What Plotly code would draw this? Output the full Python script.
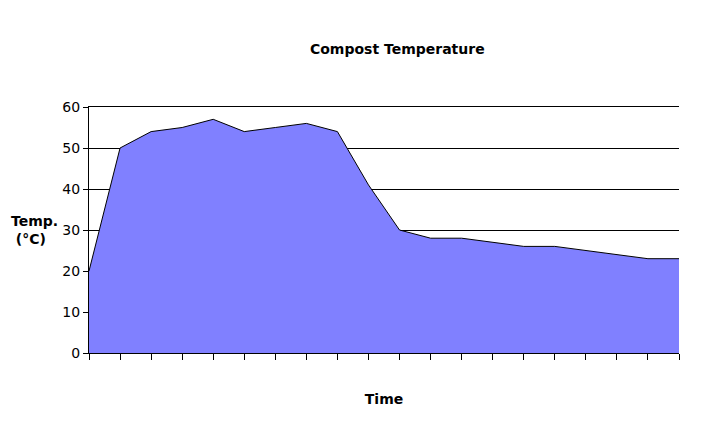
import plotly.graph_objects as go

# Readings taken at regular intervals (no labels on the time axis)
time_steps = list(range(20))
temps = [20, 50, 54, 55, 57, 54, 55, 56, 54, 41, 30, 28, 28, 27, 26, 26, 25, 24, 23, 23]
y_ticks = [0, 10, 20, 30, 40, 50, 60]

font = "DejaVu Sans, Arial, sans-serif"

fig = go.Figure()
fig.add_trace(go.Scatter(
    x=time_steps, y=temps, mode="lines", fill="tozeroy",
    fillcolor="#8080ff", line=dict(color="black", width=1), hoverinfo="y",
))

fig.update_layout(
    width=704, height=422,
    paper_bgcolor="white", plot_bgcolor="white",
    margin=dict(l=81, r=33, t=99, b=77, autoexpand=False),
    showlegend=False,
    title=dict(text="<b>Compost Temperature</b>", x=0.553, y=0.915, xanchor="center",
               font=dict(family=font, size=14, color="black")),
    font=dict(family=font, color="black"),
)
fig.update_xaxes(
    range=[0, 19], showgrid=False, showticklabels=False, automargin=False,
    ticks="outside", tickvals=time_steps, ticklen=6, tickcolor="black",
    showline=True, linecolor="black", linewidth=1, mirror=True,
    title=dict(text="<b>Time</b>", font=dict(size=14), standoff=35),
)
fig.update_yaxes(
    range=[0, 60], tickvals=y_ticks, ticks="outside", ticklen=5, tickcolor="black",
    showgrid=True, gridcolor="black", gridwidth=1, automargin=False,
    showline=True, linecolor="black", linewidth=1,
    tickfont=dict(size=14),
)
fig.add_annotation(text="<b>Temp.<br> (°C)</b>", xref="paper", yref="paper",
                   x=-0.135, y=0.5, xanchor="left", showarrow=False,
                   font=dict(family=font, size=14, color="black"), align="left")

fig.write_html("out.html")
